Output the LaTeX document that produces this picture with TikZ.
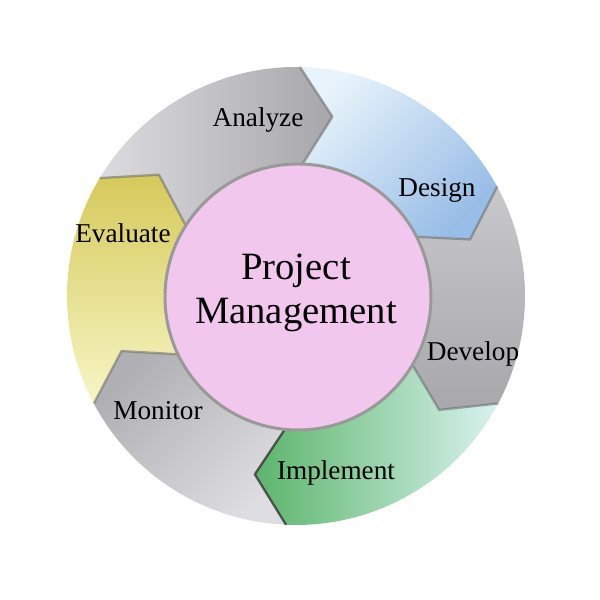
\documentclass[tikz,border=0pt]{standalone}
\usepackage{fontspec}
\setmainfont{Liberation Serif}

\definecolor{pmpink}{RGB}{242,199,238}
\definecolor{greyA}{RGB}{220,220,224}
\definecolor{greyB}{RGB}{166,166,171}
\definecolor{blueA}{RGB}{232,243,251}
\definecolor{blueB}{RGB}{152,189,230}
\definecolor{greyC}{RGB}{200,200,204}
\definecolor{greyD}{RGB}{168,168,172}
\definecolor{greenA}{RGB}{92,181,108}
\definecolor{greenB}{RGB}{217,242,238}
\definecolor{greyE}{RGB}{176,176,180}
\definecolor{greyF}{RGB}{222,222,226}
\definecolor{yellowA}{RGB}{214,201,90}
\definecolor{yellowB}{RGB}{247,246,198}

\begin{document}
\begin{tikzpicture}[x=0.2mm,y=0.2mm]
\tikzstyle{every node}=[font=\fontsize{15.5}{18}\selectfont]
\tikzstyle{headedge}=[draw=black!60, line width=1.3pt, line join=round, opacity=0.55]
\tikzstyle{hub}=[circle, fill=pmpink, draw=black!40, line width=1.7pt, minimum size=53.2mm,
  align=center, font=\fontsize{22}{25}\selectfont]
\useasboundingbox (-296,-304) rectangle (304,296);

% ring pieces: tail angle / head angle / first colour / second colour / shading angle
\foreach \a/\b/\ca/\cb/\sh in {149/89/greyA/greyB/90, 89/28.5/blueA/blueB/45,
  28.5/-28/greyC/greyD/0, -28/-92.5/greenA/greenB/90,
  -92.5/-152/greyE/greyF/45, -152/-211/yellowA/yellowB/0}{
  \shade[top color=\ca, bottom color=\cb, shading angle=\sh]
    (\a:229) arc[start angle=\a, end angle=\b, radius=229] -- (\b-10.5:183) -- (\b:125)
    arc[start angle=\b, end angle=\a, radius=125] -- (\a-10.5:183) -- cycle;
}
\foreach \b in {89,28.5,-28,-152,-211}
  \draw[headedge] (\b:229) -- (\b-10.5:183) -- (\b:125);
\draw[headedge, draw=black!80, opacity=0.8] (-92.5:229) -- (-103:183) -- (-92.5:125);

\node[hub] (pm) at (2,-1) {};
\node[align=center, font=\fontsize{22}{25}\selectfont] (pmtext) at (0,3) {Project\\Management};

\node (analyze) at (-38,176) {Analyze};
\node (design) at (141,106) {Design};
\node (develop) at (177,-58) {Develop};
\node (implement) at (40,-177) {Implement};
\node (monitor) at (-138,-115) {Monitor};
\node (evaluate) at (-173,63) {Evaluate};
\end{tikzpicture}
\end{document}
